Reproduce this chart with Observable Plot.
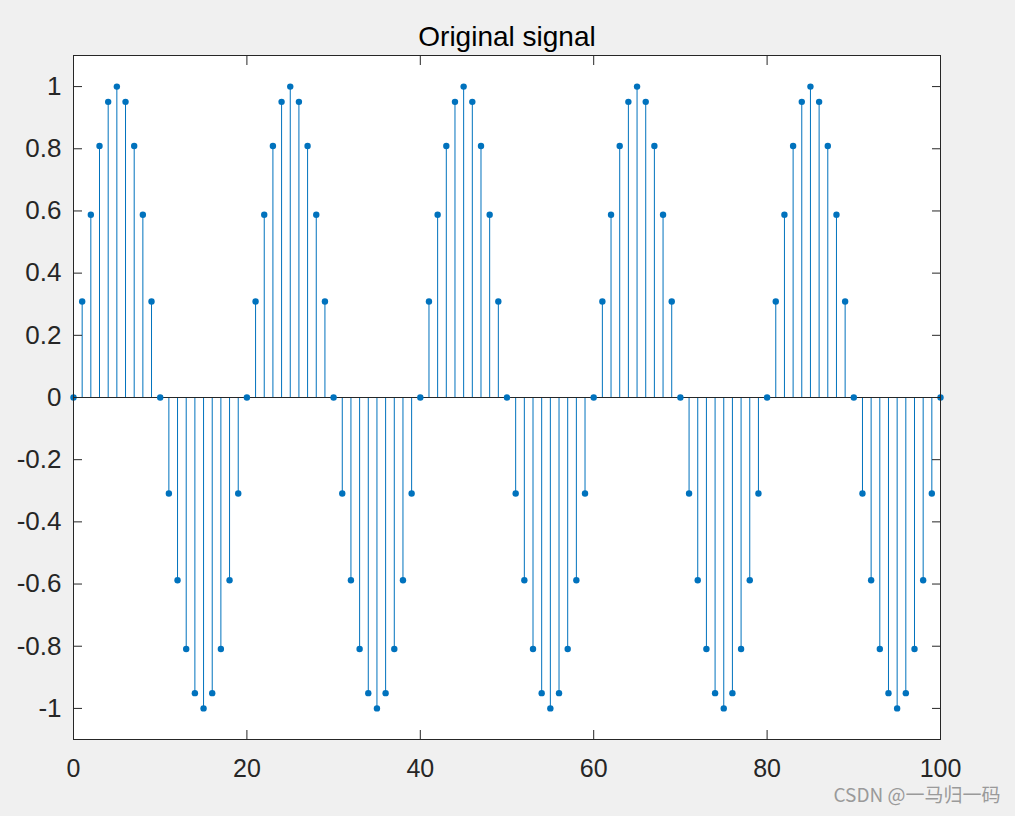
<!DOCTYPE html>
<html>
<head>
<meta charset="utf-8">
<script src="https://cdn.jsdelivr.net/npm/d3@7"></script>
<script src="https://cdn.jsdelivr.net/npm/@observablehq/plot@0.6"></script>
<style>
  html, body { margin: 0; padding: 0; background: #f0f0f0; }
  #chart { position: relative; width: 1015px; height: 816px; }
</style>
</head>
<body>
<div id="chart"></div>
<script>
const titleText = "Original signal";
const watermark = "CSDN @一马归一码";
const xTicks = [0, 20, 40, 60, 80, 100];
const yTicks = [-1, -0.8, -0.6, -0.4, -0.2, 0, 0.2, 0.4, 0.6, 0.8, 1];
const yTickLabels = ["-1", "-0.8", "-0.6", "-0.4", "-0.2", "0", "0.2", "0.4", "0.6", "0.8", "1"];
const n = [
  0,1,2,3,4,5,6,7,8,9,10,11,12,13,14,15,16,17,18,19,
  20,21,22,23,24,25,26,27,28,29,30,31,32,33,34,35,36,37,38,39,
  40,41,42,43,44,45,46,47,48,49,50,51,52,53,54,55,56,57,58,59,
  60,61,62,63,64,65,66,67,68,69,70,71,72,73,74,75,76,77,78,79,
  80,81,82,83,84,85,86,87,88,89,90,91,92,93,94,95,96,97,98,99,100
];
const signal = [
  0,0.309,0.588,0.809,0.951,1,0.951,0.809,0.588,0.309,0,-0.309,-0.588,-0.809,-0.951,-1,-0.951,-0.809,-0.588,-0.309,
  0,0.309,0.588,0.809,0.951,1,0.951,0.809,0.588,0.309,0,-0.309,-0.588,-0.809,-0.951,-1,-0.951,-0.809,-0.588,-0.309,
  0,0.309,0.588,0.809,0.951,1,0.951,0.809,0.588,0.309,0,-0.309,-0.588,-0.809,-0.951,-1,-0.951,-0.809,-0.588,-0.309,
  0,0.309,0.588,0.809,0.951,1,0.951,0.809,0.588,0.309,0,-0.309,-0.588,-0.809,-0.951,-1,-0.951,-0.809,-0.588,-0.309,
  0,0.309,0.588,0.809,0.951,1,0.951,0.809,0.588,0.309,0,-0.309,-0.588,-0.809,-0.951,-1,-0.951,-0.809,-0.588,-0.309,
  0
];
const data = n.map((v, i) => ({n: v, y: signal[i]}));
const blue = "#0072BD";
const axisColor = "#262626";

const plot = Plot.plot({
  width: 1015,
  height: 816,
  marginLeft: 73,
  marginRight: 75,
  marginTop: 55,
  marginBottom: 77,
  style: {background: "transparent", fontFamily: "'Liberation Sans', Arial, sans-serif", color: axisColor},
  x: {domain: [0, 100]},
  y: {domain: [-1.1, 1.1]},
  marks: [
    Plot.frame({fill: "white", stroke: null}),
    Plot.ruleX(data, {x: "n", y1: 0, y2: "y", stroke: blue, strokeWidth: 1}),
    Plot.ruleY([0], {stroke: axisColor, strokeWidth: 1.2}),
    Plot.dot(data, {x: "n", y: "y", r: 3.2, fill: blue, stroke: null}),
    Plot.axisX(xTicks, {anchor: "bottom", tickSize: -9, text: null, label: null, stroke: axisColor}),
    Plot.axisX(xTicks, {anchor: "top", tickSize: -9, text: null, label: null, stroke: axisColor}),
    Plot.axisY(yTicks, {anchor: "left", tickSize: -9, text: null, label: null, stroke: axisColor}),
    Plot.axisY(yTicks, {anchor: "right", tickSize: -9, text: null, label: null, stroke: axisColor}),
    Plot.axisX(xTicks, {anchor: "bottom", tickSize: 0, tickPadding: 20, fontSize: 25, label: null, fill: axisColor}),
    Plot.axisY(yTicks, {anchor: "left", tickSize: 0, tickPadding: 12, fontSize: 26, label: null, fill: axisColor,
      tickFormat: (d) => yTickLabels[yTicks.indexOf(d)]}),
    Plot.frame({stroke: axisColor, strokeWidth: 1}),
    Plot.text([titleText], {frameAnchor: "top", lineAnchor: "bottom", dy: -10, fontSize: 28, fill: "#000"}),
    Plot.text([watermark], {frameAnchor: "bottom-right", dx: 60, dy: 62, textAnchor: "end", fontSize: 19, fill: "#9a9a9a",
      fontFamily: "'Noto Sans CJK SC', 'Noto Sans', sans-serif"})
  ]
});
document.getElementById("chart").appendChild(plot);
</script>
</body>
</html>
